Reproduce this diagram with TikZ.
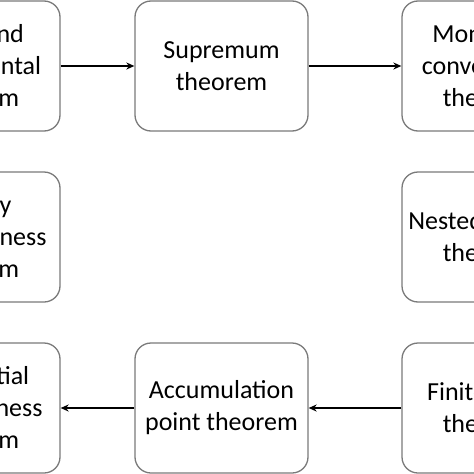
\documentclass[tikz,border=0pt]{standalone}
\usepackage{fontspec}
\setmainfont{Carlito}
\usetikzlibrary{arrows.meta}

\tikzset{
  thmbox/.style={draw=black!52,line width=1.3pt,rounded corners=16pt,
    minimum width=173pt,minimum height=130pt,align=center,
    font=\fontsize{26}{32}\selectfont},
  implies/.style={line width=1.6pt,-{Stealth[length=8pt,width=7pt]}}
}

\begin{document}
\begin{tikzpicture}[x=1pt,y=-1pt]
\useasboundingbox (0,0) rectangle (474,474);
\clip (0,0) rectangle (474,474);
% top row
\node[thmbox] (dede) at (-26.5,66) {Dedekind\\fundamental\\theorem};
\node[thmbox] (sup)  at (221.5,66) {Supremum\\theorem};
\node[thmbox] (mono) at (488.5,66) {Monotone\\convergence\\theorem};
% middle row
\node[thmbox] (cau)  at (-26.5,237) {Cauchy\\completeness\\theorem};
\node[thmbox] (nest) at (488.5,237) {Nested interval\\theorem};
% bottom row
\node[thmbox] (seq)  at (-26.5,408) {Sequential\\compactness\\theorem};
\node[thmbox] (accu) at (221.5,408) {Accumulation\\point theorem};
\node[thmbox] (fin)  at (488.5,408) {Finite cover\\theorem};
% implications
\draw[implies] (dede) -- (sup);
\draw[implies] (sup) -- (mono);
\draw[implies] (fin) -- (accu);
\draw[implies] (accu) -- (seq);
\end{tikzpicture}
\end{document}
